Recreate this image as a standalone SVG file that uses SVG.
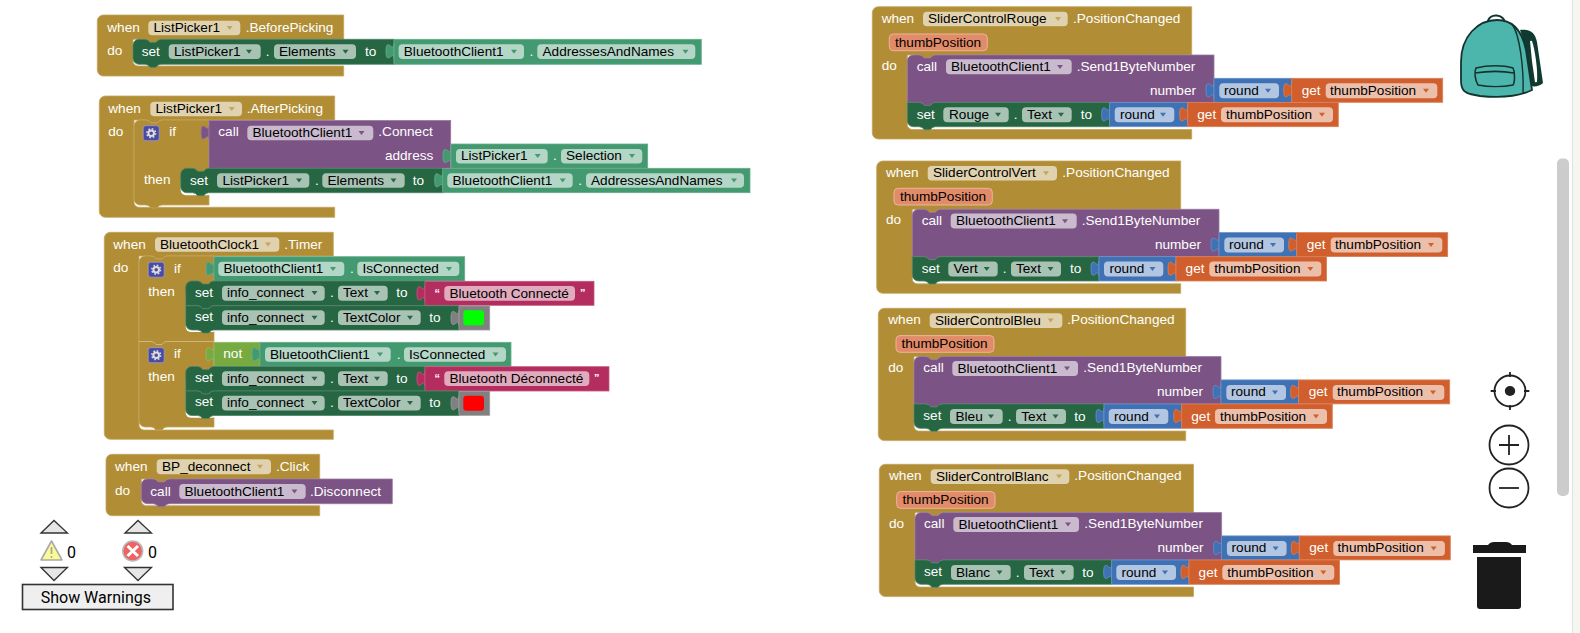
<svg xmlns="http://www.w3.org/2000/svg" xmlns:xlink="http://www.w3.org/1999/xlink" width="1580" height="633" viewBox="0 0 1580 633">
<style>
text{font:13.6px "Liberation Sans",Arial,sans-serif;fill:#fff;transform:translateY(-.5px)}
text.k{fill:#000}
text.e{text-anchor:end}
.tan{fill:#b18e35;stroke:#c4a55e;stroke-width:.8}
.pur{fill:#7c5385;stroke:#97789f;stroke-width:.8}
.grn{fill:#266643;stroke:#4f8468;stroke-width:.8}
.cmp{fill:#439970;stroke:#68ad8c;stroke-width:.8}
.mat{fill:#3f71b5;stroke:#6b92c7;stroke-width:.8}
.var{fill:#d05f2d;stroke:#d9805a;stroke-width:.8}
.str{fill:#b32d5e;stroke:#c6587f;stroke-width:.8}
.log{fill:#77ab41;stroke:#92bc66;stroke-width:.8}
.gry{fill:#808080;stroke:#999;stroke-width:.8}
.f{fill:#fff;fill-opacity:.6}
.th{fill:#e28b68;stroke:#ecb49c;stroke-width:1}
.ttan{fill:#b18e35;opacity:.65}.tpur{fill:#7c5385}.tgrn{fill:#266643}.tcmp{fill:#439970}.tmat{fill:#3f71b5}.tvar{fill:#d05f2d}.tstr{fill:#b32d5e}
.ic{fill:none;stroke:#222;stroke-width:1.8}
.arr{fill:#e6e6e6;stroke:#333;stroke-width:1.3}
</style>
<defs>
<path id="tab" d="M0,4.5 c0,10 -8,-8 -8,7.5 s8,-2.5 8,7.5 z"/>
<path id="t" d="M-3,-2 h6 l-3,4 z"/>
<g id="gear">
<rect x="-8" y="-7.5" width="16" height="15" rx="2.5" fill="#4b4ba3" stroke="#9c9cd0" stroke-width=".8"/>
<circle r="2.8" fill="none" stroke="#ddd" stroke-width="2"/>
<circle r="4.4" fill="none" stroke="#ddd" stroke-width="1.5" stroke-dasharray="1.7 1.75"/>
</g>
</defs>
<rect width="1580" height="633" fill="#fff"/>

<g id="block-beforepicking">
<path class="tan" d="M97.3,21 a6,6 0 0 1 6,-6 H343.7 V39.3 H161 q-3,0 -5,3 h-6 q-2,-3 -5,-3 H133 V61 a5,5 0 0 0 5,5 H343.7 V76 H103.3 a6,6 0 0 1 -6,-6 z"/>
<text x="107.3" y="32">when</text>
<rect class="f" x="148.3" y="20.7" width="92" height="14.6" rx="4"/><text class="k" x="153.5" y="32.5">ListPicker1</text><use href="#t" x="229.7" y="28" class="ttan"/>
<text x="245.7" y="32">.BeforePicking</text>
<text x="107.3" y="55">do</text>
<path class="grn" d="M139,39.3 h6 q3,0 5,3 h6 q2,-3 5,-3 h233 v25 h-233 q-3,0 -5,3 h-6 q-2,-3 -5,-3 h-6 a6,6 0 0 1 -6,-6 v-13 a6,6 0 0 1 6,-6 z"/>
<text x="141.7" y="56">set</text>
<rect class="f" x="168.7" y="44.3" width="92" height="14.8" rx="4"/><text class="k" x="174" y="56">ListPicker1</text><use href="#t" x="249" y="51.7" class="tgrn"/>
<text x="265.7" y="56">.</text>
<rect class="f" x="274" y="44.3" width="82" height="14.8" rx="4"/><text class="k" x="279" y="56">Elements</text><use href="#t" x="345.5" y="51.7" class="tgrn"/>
<text x="365" y="56">to</text>
<use href="#tab" x="394" y="39.3" class="cmp"/>
<rect class="cmp" x="394" y="39.3" width="307.3" height="25"/>
<rect class="f" x="398.6" y="44.3" width="125.4" height="14.8" rx="4"/><text class="k" x="403.8" y="56">BluetoothClient1</text><use href="#t" x="514" y="51.7" class="tcmp"/>
<text x="529.6" y="56">.</text>
<rect class="f" x="537.3" y="44.3" width="158" height="14.8" rx="4"/><text class="k" x="542.5" y="56">AddressesAndNames</text><use href="#t" x="685.5" y="51.7" class="tcmp"/>
</g>

<g id="block-afterpicking">
<path class="tan" d="M99.3,102 a6,6 0 0 1 6,-6 H334.7 V120 H162 q-3,0 -5,3 h-6 q-2,-3 -5,-3 H134 V202.3 a5,5 0 0 0 5,5 H334.7 V217.3 H105.3 a6,6 0 0 1 -6,-6 z"/>
<text x="108.3" y="113">when</text>
<rect class="f" x="150.3" y="101.7" width="91.7" height="14.6" rx="4"/><text class="k" x="155.5" y="113.5">ListPicker1</text><use href="#t" x="231.7" y="109" class="ttan"/>
<text x="246.7" y="113">.AfterPicking</text>
<text x="108.3" y="136">do</text>
<path class="tan" d="M140,120 h6 q3,0 5,3 h6 q2,-3 5,-3 h47 v85 h-47 q-3,0 -5,3 h-6 q-2,-3 -5,-3 h-6 a6,6 0 0 1 -6,-6 v-73 a6,6 0 0 1 6,-6 z"/>
<rect x="180.7" y="178" width="32" height="17.2" rx="5" fill="#fff"/>
<use href="#gear" x="151.2" y="133.2"/>
<text x="169.3" y="136">if</text>
<text x="144" y="184">then</text>
<use href="#tab" x="209" y="120.5" class="pur"/>
<rect class="pur" x="209" y="120.5" width="241.7" height="47.8"/>
<text x="218.3" y="136.7">call</text>
<rect class="f" x="247.3" y="125.7" width="126" height="14.6" rx="4"/><text class="k" x="252.5" y="137.5">BluetoothClient1</text><use href="#t" x="361.5" y="133" class="tpur"/>
<text x="378.3" y="136.7">.Connect</text>
<text class="e" x="433.3" y="160">address</text>
<use href="#tab" x="451" y="144" class="cmp"/>
<rect class="cmp" x="451" y="144" width="196.7" height="24.3"/>
<rect class="f" x="456" y="149" width="91.7" height="14.4" rx="4"/><text class="k" x="461" y="160.5">ListPicker1</text><use href="#t" x="537.7" y="156" class="tcmp"/>
<text x="553" y="160.5">.</text>
<rect class="f" x="561" y="149" width="81.3" height="14.4" rx="4"/><text class="k" x="566" y="160.5">Selection</text><use href="#t" x="632" y="156" class="tcmp"/>
<path class="grn" d="M186.7,168.3 h6 q3,0 5,3 h6 q2,-3 5,-3 h234.7 v24.4 h-234.7 q-3,0 -5,3 h-6 q-2,-3 -5,-3 h-6 a6,6 0 0 1 -6,-6 v-12.4 a6,6 0 0 1 6,-6 z"/>
<text x="190" y="185">set</text>
<rect class="f" x="217" y="173.3" width="92.3" height="14.4" rx="4"/><text class="k" x="222.5" y="185">ListPicker1</text><use href="#t" x="299" y="180.5" class="tgrn"/>
<text x="315" y="185">.</text>
<rect class="f" x="322.3" y="173.3" width="82.4" height="14.4" rx="4"/><text class="k" x="327.5" y="185">Elements</text><use href="#t" x="393.5" y="180.5" class="tgrn"/>
<text x="412.7" y="185">to</text>
<use href="#tab" x="442.7" y="168.3" class="cmp"/>
<rect class="cmp" x="442.7" y="168.3" width="307.3" height="24.4"/>
<rect class="f" x="447.3" y="173.3" width="125.4" height="14.4" rx="4"/><text class="k" x="452.5" y="185">BluetoothClient1</text><use href="#t" x="562.7" y="180.5" class="tcmp"/>
<text x="578.3" y="185">.</text>
<rect class="f" x="586" y="173.3" width="158" height="14.4" rx="4"/><text class="k" x="591" y="185">AddressesAndNames</text><use href="#t" x="734" y="180.5" class="tcmp"/>
</g>

<g id="block-timer">
<path class="tan" d="M104.3,238.3 a6,6 0 0 1 6,-6 H333.3 V256 H167 q-3,0 -5,3 h-6 q-2,-3 -5,-3 H139 V425 a5,5 0 0 0 5,5 H333.3 V439.3 H110.3 a6,6 0 0 1 -6,-6 z"/>
<text x="113.3" y="249">when</text>
<rect class="f" x="155" y="237.3" width="124.3" height="14.5" rx="4"/><text class="k" x="160" y="249.3">BluetoothClock1</text><use href="#t" x="268" y="244.5" class="ttan"/>
<text x="284.3" y="249">.Timer</text>
<text x="113.3" y="272">do</text>
<path class="tan" d="M145,256 h6 q3,0 5,3 h6 q2,-3 5,-3 h47 v171 h-47 q-3,0 -5,3 h-6 q-2,-3 -5,-3 h-6 a6,6 0 0 1 -6,-6 v-159 a6,6 0 0 1 6,-6 z"/>
<path d="M139,341.5 h6 h6 q3,0 5,3 h6 q2,-3 5,-3 h47" fill="none" stroke="#d2bb84" stroke-width=".9"/>
<rect x="185.7" y="290" width="32" height="42" rx="5" fill="#fff"/>
<rect x="185.7" y="375" width="32" height="42.8" rx="5" fill="#fff"/>
<use href="#gear" x="156.2" y="269.7"/>
<text x="174" y="273">if</text>
<text x="148.3" y="296.7">then</text>
<use href="#tab" x="214" y="256.7" class="cmp"/>
<rect class="cmp" x="214" y="256.7" width="250.7" height="24.3"/>
<rect class="f" x="218.3" y="261.7" width="126" height="14.4" rx="4"/><text class="k" x="223.5" y="273.5">BluetoothClient1</text><use href="#t" x="333" y="269" class="tcmp"/>
<text x="350" y="273.5">.</text>
<rect class="f" x="357.3" y="261.7" width="102" height="14.4" rx="4"/><text class="k" x="362.5" y="273.5">IsConnected</text><use href="#t" x="449" y="269" class="tcmp"/>
<path class="grn" d="M191.7,281 h6 q3,0 5,3 h6 q2,-3 5,-3 h211.3 v24.7 h-211.3 q-3,0 -5,3 h-6 q-2,-3 -5,-3 H185.7 V287 a6,6 0 0 1 6,-6 z"/>
<text x="195" y="297">set</text>
<rect class="f" x="222" y="285.7" width="102.7" height="15" rx="4"/><text class="k" x="227" y="297.5">info_connect</text><use href="#t" x="314.5" y="293" class="tgrn"/>
<text x="330" y="297.5">.</text>
<rect class="f" x="338" y="285.7" width="49.7" height="15" rx="4"/><text class="k" x="343" y="297.5">Text</text><use href="#t" x="377" y="293" class="tgrn"/>
<text x="396.3" y="297.5">to</text>
<use href="#tab" x="425" y="281.3" class="str"/>
<rect class="str" x="425" y="281.3" width="169" height="24"/>
<text x="434.5" y="297" style="font-size:11px;font-weight:bold">“</text>
<rect class="f" x="444.3" y="286" width="130.7" height="14.7" rx="4"/><text class="k" x="449.5" y="298">Bluetooth Connecté</text>
<text x="580" y="297" style="font-size:11px;font-weight:bold">”</text>
<path class="grn" d="M185.7,305.7 h12 q3,0 5,3 h6 q2,-3 5,-3 h245.3 v24.3 h-245.3 q-3,0 -5,3 h-6 q-2,-3 -5,-3 h-6 a6,6 0 0 1 -6,-6 V305.7 z"/>
<text x="195" y="321">set</text>
<rect class="f" x="222" y="310.3" width="102.7" height="14.8" rx="4"/><text class="k" x="227" y="322">info_connect</text><use href="#t" x="314.5" y="317.7" class="tgrn"/>
<text x="330" y="322">.</text>
<rect class="f" x="338" y="310.3" width="82.7" height="14.8" rx="4"/><text class="k" x="343" y="322">TextColor</text><use href="#t" x="410" y="317.7" class="tgrn"/>
<text x="429.3" y="322">to</text>
<use href="#tab" x="459" y="306" class="gry"/>
<rect class="gry" x="459" y="306" width="30.7" height="24"/>
<rect x="463.3" y="310.3" width="20.7" height="15" rx="3" fill="#0f0"/>
<use href="#gear" x="156.2" y="355.2"/>
<text x="174" y="358.7">if</text>
<text x="148.3" y="381.7">then</text>
<use href="#tab" x="214" y="342.3" class="log"/>
<rect class="log" x="214" y="342.3" width="46" height="24"/>
<text x="223.3" y="358.7">not</text>
<use href="#tab" x="260" y="342.3" class="cmp"/>
<rect class="cmp" x="260" y="342.3" width="251" height="24"/>
<rect class="f" x="265" y="347.3" width="125.7" height="14.4" rx="4"/><text class="k" x="270" y="359">BluetoothClient1</text><use href="#t" x="380" y="354.5" class="tcmp"/>
<text x="396.7" y="359">.</text>
<rect class="f" x="404" y="347.3" width="102" height="14.4" rx="4"/><text class="k" x="409" y="359">IsConnected</text><use href="#t" x="495.5" y="354.5" class="tcmp"/>
<path class="grn" d="M191.7,366.5 h6 q3,0 5,3 h6 q2,-3 5,-3 h211.3 v24.5 h-211.3 q-3,0 -5,3 h-6 q-2,-3 -5,-3 H185.7 V372.5 a6,6 0 0 1 6,-6 z"/>
<text x="195" y="382.5">set</text>
<rect class="f" x="222" y="371.3" width="102.7" height="14.8" rx="4"/><text class="k" x="227" y="383">info_connect</text><use href="#t" x="314.5" y="378.7" class="tgrn"/>
<text x="330" y="383">.</text>
<rect class="f" x="338" y="371.3" width="49.7" height="14.8" rx="4"/><text class="k" x="343" y="383">Text</text><use href="#t" x="377" y="378.7" class="tgrn"/>
<text x="396.3" y="383">to</text>
<use href="#tab" x="425" y="366.7" class="str"/>
<rect class="str" x="425" y="366.7" width="184" height="24.3"/>
<text x="434.5" y="382.5" style="font-size:11px;font-weight:bold">“</text>
<rect class="f" x="444.3" y="371.3" width="145" height="14.7" rx="4"/><text class="k" x="449.5" y="383">Bluetooth Déconnecté</text>
<text x="594" y="382.5" style="font-size:11px;font-weight:bold">”</text>
<path class="grn" d="M185.7,391 h12 q3,0 5,3 h6 q2,-3 5,-3 h245.3 v24.5 h-245.3 q-3,0 -5,3 h-6 q-2,-3 -5,-3 h-6 a6,6 0 0 1 -6,-6 V391 z"/>
<text x="195" y="406.7">set</text>
<rect class="f" x="222" y="395.7" width="102.7" height="14.8" rx="4"/><text class="k" x="227" y="407.5">info_connect</text><use href="#t" x="314.5" y="403" class="tgrn"/>
<text x="330" y="407.5">.</text>
<rect class="f" x="338" y="395.7" width="82.7" height="14.8" rx="4"/><text class="k" x="343" y="407.5">TextColor</text><use href="#t" x="410" y="403" class="tgrn"/>
<text x="429.3" y="407.5">to</text>
<use href="#tab" x="459" y="391.3" class="gry"/>
<rect class="gry" x="459" y="391.3" width="30.7" height="24"/>
<rect x="463.3" y="395.7" width="20.7" height="15" rx="3" fill="#f00"/>
</g>

<g id="block-click">
<path class="tan" d="M106,460.3 a6,6 0 0 1 6,-6 H319.7 V479 H169.3 q-3,0 -5,3 h-6 q-2,-3 -5,-3 H141.3 V500.7 a5,5 0 0 0 5,5 H319.7 V515.7 H112 a6,6 0 0 1 -6,-6 z"/>
<text x="115" y="471">when</text>
<rect class="f" x="156.7" y="459.3" width="114.3" height="15" rx="4"/><text class="k" x="162" y="471.5">BP_deconnect</text><use href="#t" x="260" y="466.8" class="ttan"/>
<text x="276" y="471">.Click</text>
<text x="115" y="495">do</text>
<path class="pur" d="M147.3,479 h6 q3,0 5,3 h6 q2,-3 5,-3 h223 v24.7 h-223 q-3,0 -5,3 h-6 q-2,-3 -5,-3 h-6 a6,6 0 0 1 -6,-6 v-12.7 a6,6 0 0 1 6,-6 z"/>
<text x="150.3" y="496">call</text>
<rect class="f" x="179.3" y="484" width="126.4" height="15" rx="4"/><text class="k" x="184.5" y="496">BluetoothClient1</text><use href="#t" x="294.5" y="491.5" class="tpur"/>
<text x="310" y="496">.Disconnect</text>
</g>

<g id="block-rouge">
<path class="tan" d="M872.3,12.7 a6,6 0 0 1 6,-6 H1191.7 V55 H935.3 q-3,0 -5,3 h-6 q-2,-3 -5,-3 H907.3 V124.5 a5,5 0 0 0 5,5 H1191.7 V139 H878.3 a6,6 0 0 1 -6,-6 z"/>
<text x="881.7" y="23">when</text>
<rect class="f" x="923" y="11.7" width="144.7" height="14.6" rx="4"/><text class="k" x="928" y="23.5">SliderControlRouge</text><use href="#t" x="1058" y="19" class="ttan"/>
<text x="1073" y="23">.PositionChanged</text>
<rect class="th" x="889.3" y="34" width="98" height="16.7" rx="4"/><text class="k" x="895" y="47">thumbPosition</text>
<text x="881.7" y="70.5">do</text>
<path class="pur" d="M913.3,55 h6 q3,0 5,3 h6 q2,-3 5,-3 h278.7 v47.4 h-278.7 q-3,0 -5,3 h-6 q-2,-3 -5,-3 H907.3 V61 a6,6 0 0 1 6,-6 z"/>
<text x="916.7" y="71">call</text>
<rect class="f" x="946" y="59.3" width="125.7" height="15" rx="4"/><text class="k" x="951" y="71.5">BluetoothClient1</text><use href="#t" x="1060" y="67" class="tpur"/>
<text x="1076.7" y="71">.Send1ByteNumber</text>
<text class="e" x="1196" y="95">number</text>
<use href="#tab" x="1214" y="78.3" class="mat"/><rect class="mat" x="1214" y="78.3" width="77.7" height="24"/>
<rect class="f" x="1219.3" y="83.3" width="59.7" height="15" rx="4"/><text class="k" x="1224" y="95">round</text><use href="#t" x="1268" y="90.8" class="tmat"/>
<use href="#tab" x="1291.7" y="78.3" class="var"/><rect class="var" x="1291.7" y="78.3" width="151" height="24"/>
<text x="1301.7" y="95">get</text>
<rect class="f" x="1325.7" y="83.3" width="111.6" height="15" rx="4"/><text class="k" x="1330" y="95">thumbPosition</text><use href="#t" x="1426" y="90.8" class="tvar"/>
<path class="grn" d="M907.3,102.4 h12 q3,0 5,3 h6 q2,-3 5,-3 h174.4 v24.3 h-174.4 q-3,0 -5,3 h-6 q-2,-3 -5,-3 h-6 a6,6 0 0 1 -6,-6 V102.4 z"/>
<text x="916.7" y="119">set</text>
<rect class="f" x="943.3" y="107.3" width="65.4" height="15" rx="4"/><text class="k" x="949" y="119.5">Rouge</text><use href="#t" x="998" y="114.8" class="tgrn"/>
<text x="1013.7" y="119.5">.</text>
<rect class="f" x="1022" y="107.3" width="49.7" height="15" rx="4"/><text class="k" x="1027" y="119.5">Text</text><use href="#t" x="1061" y="114.8" class="tgrn"/>
<text x="1080.7" y="119.5">to</text>
<use href="#tab" x="1109.7" y="102.4" class="mat"/><rect class="mat" x="1109.7" y="102.4" width="78" height="24.3"/>
<rect class="f" x="1114.7" y="107.3" width="59.6" height="15" rx="4"/><text class="k" x="1120" y="119.5">round</text><use href="#t" x="1163" y="114.8" class="tmat"/>
<use href="#tab" x="1187.7" y="102.4" class="var"/><rect class="var" x="1187.7" y="102.4" width="150.6" height="24.3"/>
<text x="1197.3" y="119.5">get</text>
<rect class="f" x="1221" y="107.3" width="112" height="15" rx="4"/><text class="k" x="1226" y="119.5">thumbPosition</text><use href="#t" x="1322" y="114.8" class="tvar"/>
</g>

<g id="block-vert" transform="translate(0,154.3)">
<path class="tan" d="M876.7,12.7 a6,6 0 0 1 6,-6 H1180.7 V55 H940.3 q-3,0 -5,3 h-6 q-2,-3 -5,-3 H912.3 V124.5 a5,5 0 0 0 5,5 H1180.7 V139 H882.7 a6,6 0 0 1 -6,-6 z"/>
<text x="886" y="23">when</text>
<rect class="f" x="927.7" y="11.7" width="129.3" height="14.6" rx="4"/><text class="k" x="933" y="23.5">SliderControlVert</text><use href="#t" x="1046" y="19" class="ttan"/>
<text x="1062.3" y="23">.PositionChanged</text>
<rect class="th" x="894" y="34" width="98.3" height="16.7" rx="4"/><text class="k" x="900" y="47">thumbPosition</text>
<text x="886" y="70.5">do</text>
<path class="pur" d="M918.3,55 h6 q3,0 5,3 h6 q2,-3 5,-3 h278.7 v47.4 h-278.7 q-3,0 -5,3 h-6 q-2,-3 -5,-3 H912.3 V61 a6,6 0 0 1 6,-6 z"/>
<text x="921.7" y="71">call</text>
<rect class="f" x="950.7" y="59.3" width="126" height="15" rx="4"/><text class="k" x="956" y="71.5">BluetoothClient1</text><use href="#t" x="1065" y="67" class="tpur"/>
<text x="1081.7" y="71">.Send1ByteNumber</text>
<text class="e" x="1201" y="95">number</text>
<use href="#tab" x="1219" y="78.3" class="mat"/><rect class="mat" x="1219" y="78.3" width="77.7" height="24"/>
<rect class="f" x="1224.3" y="83.3" width="59.7" height="15" rx="4"/><text class="k" x="1229" y="95">round</text><use href="#t" x="1273" y="90.8" class="tmat"/>
<use href="#tab" x="1296.7" y="78.3" class="var"/><rect class="var" x="1296.7" y="78.3" width="151" height="24"/>
<text x="1306.7" y="95">get</text>
<rect class="f" x="1330.7" y="83.3" width="111.6" height="15" rx="4"/><text class="k" x="1335" y="95">thumbPosition</text><use href="#t" x="1431" y="90.8" class="tvar"/>
<path class="grn" d="M912.3,102.4 h12 q3,0 5,3 h6 q2,-3 5,-3 h158.7 v24.3 h-158.7 q-3,0 -5,3 h-6 q-2,-3 -5,-3 h-6 a6,6 0 0 1 -6,-6 V102.4 z"/>
<text x="921.7" y="119">set</text>
<rect class="f" x="948.3" y="107.3" width="49.4" height="15" rx="4"/><text class="k" x="953.5" y="119.5">Vert</text><use href="#t" x="986.7" y="114.8" class="tgrn"/>
<text x="1002.7" y="119.5">.</text>
<rect class="f" x="1011" y="107.3" width="50" height="15" rx="4"/><text class="k" x="1016" y="119.5">Text</text><use href="#t" x="1050.5" y="114.8" class="tgrn"/>
<text x="1070" y="119.5">to</text>
<use href="#tab" x="1099" y="102.4" class="mat"/><rect class="mat" x="1099" y="102.4" width="77" height="24.3"/>
<rect class="f" x="1104" y="107.3" width="59.3" height="15" rx="4"/><text class="k" x="1109.5" y="119.5">round</text><use href="#t" x="1152.5" y="114.8" class="tmat"/>
<use href="#tab" x="1176" y="102.4" class="var"/><rect class="var" x="1176" y="102.4" width="150.6" height="24.3"/>
<text x="1185.6" y="119.5">get</text>
<rect class="f" x="1209.3" y="107.3" width="112" height="15" rx="4"/><text class="k" x="1214.3" y="119.5">thumbPosition</text><use href="#t" x="1310.3" y="114.8" class="tvar"/>
</g>

<g id="block-bleu" transform="translate(0,301.6)">
<path class="tan" d="M878.3,12.7 a6,6 0 0 1 6,-6 H1185.7 V55 H942 q-3,0 -5,3 h-6 q-2,-3 -5,-3 H914 V124.5 a5,5 0 0 0 5,5 H1185.7 V139 H884.3 a6,6 0 0 1 -6,-6 z"/>
<text x="888.3" y="23">when</text>
<rect class="f" x="929.7" y="11.7" width="132.6" height="14.6" rx="4"/><text class="k" x="935" y="23.5">SliderControlBleu</text><use href="#t" x="1050.7" y="19" class="ttan"/>
<text x="1067.3" y="23">.PositionChanged</text>
<rect class="th" x="896" y="34" width="98" height="16.7" rx="4"/><text class="k" x="901.5" y="47">thumbPosition</text>
<text x="888.3" y="70.5">do</text>
<path class="pur" d="M920,55 h6 q3,0 5,3 h6 q2,-3 5,-3 h279 v47.4 h-279 q-3,0 -5,3 h-6 q-2,-3 -5,-3 H914 V61 a6,6 0 0 1 6,-6 z"/>
<text x="923.3" y="71">call</text>
<rect class="f" x="952.3" y="59.3" width="125.7" height="15" rx="4"/><text class="k" x="957.5" y="71.5">BluetoothClient1</text><use href="#t" x="1067" y="67" class="tpur"/>
<text x="1083.3" y="71">.Send1ByteNumber</text>
<text class="e" x="1203" y="95">number</text>
<use href="#tab" x="1221" y="78.3" class="mat"/><rect class="mat" x="1221" y="78.3" width="77.7" height="24"/>
<rect class="f" x="1226.3" y="83.3" width="59.7" height="15" rx="4"/><text class="k" x="1231" y="95">round</text><use href="#t" x="1275" y="90.8" class="tmat"/>
<use href="#tab" x="1298.7" y="78.3" class="var"/><rect class="var" x="1298.7" y="78.3" width="151" height="24"/>
<text x="1308.7" y="95">get</text>
<rect class="f" x="1332.7" y="83.3" width="111.6" height="15" rx="4"/><text class="k" x="1337" y="95">thumbPosition</text><use href="#t" x="1433" y="90.8" class="tvar"/>
<path class="grn" d="M914,102.4 h12 q3,0 5,3 h6 q2,-3 5,-3 h162 v24.3 h-162 q-3,0 -5,3 h-6 q-2,-3 -5,-3 h-6 a6,6 0 0 1 -6,-6 V102.4 z"/>
<text x="923.3" y="119">set</text>
<rect class="f" x="950" y="107.3" width="52.7" height="15" rx="4"/><text class="k" x="955.5" y="119.5">Bleu</text><use href="#t" x="991" y="114.8" class="tgrn"/>
<text x="1007.7" y="119.5">.</text>
<rect class="f" x="1016" y="107.3" width="50" height="15" rx="4"/><text class="k" x="1021.3" y="119.5">Text</text><use href="#t" x="1055.5" y="114.8" class="tgrn"/>
<text x="1074.3" y="119.5">to</text>
<use href="#tab" x="1104" y="102.4" class="mat"/><rect class="mat" x="1104" y="102.4" width="77.7" height="24.3"/>
<rect class="f" x="1108.7" y="107.3" width="59.6" height="15" rx="4"/><text class="k" x="1114" y="119.5">round</text><use href="#t" x="1157" y="114.8" class="tmat"/>
<use href="#tab" x="1181.7" y="102.4" class="var"/><rect class="var" x="1181.7" y="102.4" width="150.6" height="24.3"/>
<text x="1191.3" y="119.5">get</text>
<rect class="f" x="1215" y="107.3" width="112" height="15" rx="4"/><text class="k" x="1220" y="119.5">thumbPosition</text><use href="#t" x="1316" y="114.8" class="tvar"/>
</g>

<g id="block-blanc" transform="translate(0,457.6)">
<path class="tan" d="M879.3,12.7 a6,6 0 0 1 6,-6 H1193.5 V55 H943 q-3,0 -5,3 h-6 q-2,-3 -5,-3 H915 V124.5 a5,5 0 0 0 5,5 H1193.5 V139 H885.3 a6,6 0 0 1 -6,-6 z"/>
<text x="889" y="23">when</text>
<rect class="f" x="930.7" y="11.7" width="138.6" height="14.6" rx="4"/><text class="k" x="936" y="23.5">SliderControlBlanc</text><use href="#t" x="1059" y="19" class="ttan"/>
<text x="1074.3" y="23">.PositionChanged</text>
<rect class="th" x="896.7" y="34" width="98.3" height="16.7" rx="4"/><text class="k" x="902.5" y="47">thumbPosition</text>
<text x="889" y="70.5">do</text>
<path class="pur" d="M921,55 h6 q3,0 5,3 h6 q2,-3 5,-3 h278.6 v47.4 h-278.6 q-3,0 -5,3 h-6 q-2,-3 -5,-3 H915 V61 a6,6 0 0 1 6,-6 z"/>
<text x="924" y="71">call</text>
<rect class="f" x="953.3" y="59.3" width="125.7" height="15" rx="4"/><text class="k" x="958.5" y="71.5">BluetoothClient1</text><use href="#t" x="1068" y="67" class="tpur"/>
<text x="1084.3" y="71">.Send1ByteNumber</text>
<text class="e" x="1203.6" y="95">number</text>
<use href="#tab" x="1221.6" y="78.3" class="mat"/><rect class="mat" x="1221.6" y="78.3" width="77.7" height="24"/>
<rect class="f" x="1226.9" y="83.3" width="59.7" height="15" rx="4"/><text class="k" x="1231.6" y="95">round</text><use href="#t" x="1275.6" y="90.8" class="tmat"/>
<use href="#tab" x="1299.3" y="78.3" class="var"/><rect class="var" x="1299.3" y="78.3" width="151" height="24"/>
<text x="1309.3" y="95">get</text>
<rect class="f" x="1333.3" y="83.3" width="111.6" height="15" rx="4"/><text class="k" x="1337.6" y="95">thumbPosition</text><use href="#t" x="1433.6" y="90.8" class="tvar"/>
<path class="grn" d="M915,102.4 h12 q3,0 5,3 h6 q2,-3 5,-3 h168.7 v24.3 h-168.7 q-3,0 -5,3 h-6 q-2,-3 -5,-3 h-6 a6,6 0 0 1 -6,-6 V102.4 z"/>
<text x="924" y="119">set</text>
<rect class="f" x="951" y="107.3" width="59.7" height="15" rx="4"/><text class="k" x="956" y="119.5">Blanc</text><use href="#t" x="999.5" y="114.8" class="tgrn"/>
<text x="1015.7" y="119.5">.</text>
<rect class="f" x="1024" y="107.3" width="49.7" height="15" rx="4"/><text class="k" x="1029" y="119.5">Text</text><use href="#t" x="1063" y="114.8" class="tgrn"/>
<text x="1082.3" y="119.5">to</text>
<use href="#tab" x="1111.7" y="102.4" class="mat"/><rect class="mat" x="1111.7" y="102.4" width="77.3" height="24.3"/>
<rect class="f" x="1116.3" y="107.3" width="59.7" height="15" rx="4"/><text class="k" x="1121.5" y="119.5">round</text><use href="#t" x="1165" y="114.8" class="tmat"/>
<use href="#tab" x="1189" y="102.4" class="var"/><rect class="var" x="1189" y="102.4" width="150.6" height="24.3"/>
<text x="1198.6" y="119.5">get</text>
<rect class="f" x="1222.3" y="107.3" width="112" height="15" rx="4"/><text class="k" x="1227.3" y="119.5">thumbPosition</text><use href="#t" x="1323.3" y="114.8" class="tvar"/>
</g>

<g id="warnings">
<polygon class="arr" points="41,533 54,520.5 67.5,533"/>
<polygon class="arr" points="125,533 138,520.5 151.5,533"/>
<path d="M51.5,541 L62,560 H41 Z" fill="#fbfb96" stroke="#a9a9a9" stroke-width="1.6" stroke-linejoin="round"/>
<path d="M51.5,547 V554" stroke="#a8a8a0" stroke-width="1.8"/><circle cx="51.5" cy="557" r="1" fill="#a8a8a0"/>
<text x="67" y="558.5" class="k" style="font:16px Roboto,sans-serif">0</text>
<circle cx="132.7" cy="551" r="10" fill="#ee6464" stroke="#b9b9b9" stroke-width="1.5"/>
<path d="M127.5,546 L138,556 M138,546 L127.5,556" stroke="#fff" stroke-width="3"/>
<text x="148" y="558.5" class="k" style="font:16px Roboto,sans-serif">0</text>
<polygon class="arr" points="41,567.5 54,580.5 67.5,567.5"/>
<polygon class="arr" points="124.5,567.5 138,580.5 151.5,567.5"/>
<rect x="22.5" y="584.5" width="150.5" height="25" fill="#efefef" stroke="#333" stroke-width="1.6"/>
<text x="40.7" y="603" class="k" style="font:16px Roboto,sans-serif">Show Warnings</text>
</g>

<g id="backpack">
<path d="M1520,30 C1531,29 1535,33 1537,42 L1543,83 C1540,86 1535,87 1531,86 L1522,36 Z" fill="#0e3a30"/>
<path d="M1531,41 C1534,50 1537,70 1536,82 C1534,70 1532,55 1531,41 Z" fill="#fff" stroke="#fff" stroke-width="2"/>
<path d="M1488,22 C1488,13 1505,13 1505,24" fill="none" stroke="#14332e" stroke-width="2"/>
<path d="M1461,62 C1461,36 1478,20 1497,20 C1512,20 1522,30 1526,50 L1532,90 C1520,96 1500,98 1480,96 L1470,94 C1463,92 1461,88 1461,80 Z" fill="#4db6ac" stroke="#14332e" stroke-width="1.8"/>
<path d="M1512,24 C1520,35 1524,70 1523,94" fill="none" stroke="#14332e" stroke-width="1.4"/>
<path d="M1476,68 C1488,65 1503,65 1513,68 C1515,72 1515,82 1513,85 C1503,87 1488,87 1478,85 C1475,80 1474,72 1476,68 Z M1475,73 C1488,71 1503,71 1514,73" fill="none" stroke="#14332e" stroke-width="1.6"/>
</g>

<g id="target">
<circle class="ic" cx="1510" cy="391" r="15.5"/><ellipse cx="1510" cy="391" rx="5.2" ry="5" fill="#222"/>
<path class="ic" d="M1490.7,391 H1496 M1524,391 H1529.3 M1510,372 V377 M1510,405 V410"/>
</g>
<g id="zoom-in">
<circle class="ic" cx="1509" cy="445" r="19.5"/><path class="ic" d="M1499,445 H1519 M1509,435 V455"/>
</g>
<g id="zoom-out">
<circle class="ic" cx="1509" cy="488" r="19.5"/><path class="ic" d="M1499,488 H1519"/>
</g>
<g id="trash" fill="#1a1a1a">
<rect x="1473" y="545" width="53" height="8"/>
<path d="M1488,545 q2,-3 6,-3 h12 q4,0 6,3 z"/>
<path d="M1477,557 H1521 V606 a3,3 0 0 1 -3,3 H1480 a3,3 0 0 1 -3,-3 z"/>
</g>
<g id="scrollbar">
<rect x="1557" y="158.6" width="12" height="337.4" rx="5" fill="#ccc"/>
<rect x="1572" y="0" width="8" height="633" fill="#f6f6f1"/>
<rect x="1572" y="0" width="1" height="633" fill="#e2e2e2"/>
</g>
</svg>
